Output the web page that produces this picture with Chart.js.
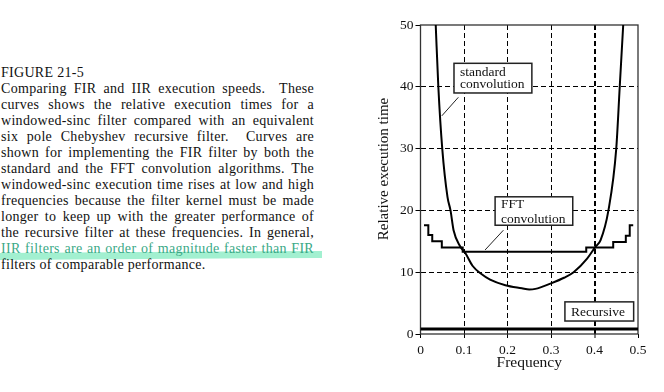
<!DOCTYPE html>
<html>
<head>
<meta charset="utf-8">
<script src="https://cdn.jsdelivr.net/npm/chart.js@4.4.1/dist/chart.umd.min.js"></script>
<style>
  html, body { margin: 0; padding: 0; background: #fff; }
  body { width: 664px; height: 392px; position: relative; overflow: hidden; font-family: 'Liberation Serif', 'Times New Roman', serif; }
  #caption { position: absolute; left: 1px; top: 65px; width: 313px; font-size: 14px; line-height: 16px; letter-spacing: 0.3px; color: #111; z-index: 2; }
  #caption div { text-align: justify; text-align-last: justify; }
  #caption div.plain { text-align-last: left; }
  #caption div.mark { color: #3aa986; }
  #band { position: absolute; left: 0; top: 252px; width: 322px; height: 7px; background: #a2f0d0; transform: rotate(-0.4deg); z-index: 1; }
  #plot { position: absolute; left: 370px; top: 0; width: 294px; height: 392px; }
</style>
</head>
<body>
<div id="band"></div>
<div id="caption">
  <div class="plain">FIGURE 21-5</div>
  <div>Comparing FIR and IIR execution speeds.&nbsp; These</div>
  <div>curves shows the relative execution times for a</div>
  <div>windowed-sinc filter compared with an equivalent</div>
  <div>six pole Chebyshev recursive filter.&nbsp; Curves are</div>
  <div>shown for implementing the FIR filter by both the</div>
  <div>standard and the FFT convolution algorithms. The</div>
  <div>windowed-sinc execution time rises at low and high</div>
  <div>frequencies because the filter kernel must be made</div>
  <div>longer to keep up with the greater performance of</div>
  <div>the recursive filter at these frequencies. In general,</div>
  <div class="mark">IIR filters are an order of magnitude faster than FIR</div>
  <div class="plain">filters of comparable performance.</div>
</div>
<div id="plot"><canvas id="chart" width="294" height="392"></canvas></div>
<script>
// Axis ticks
const freqTicks = [0, 0.1, 0.2, 0.3, 0.4, 0.5]
const freqTickLabels = ['0', '0.1', '0.2', '0.3', '0.4', '0.5']
const timeTicks = [0, 10, 20, 30, 40, 50]
const timeTickLabels = ['0', '10', '20', '30', '40', '50']

// Standard convolution
const standardFreq = [0.035, 0.041, 0.050, 0.062, 0.069, 0.076, 0.091, 0.103, 0.120, 0.140, 0.160, 0.195, 0.233, 0.250, 0.264, 0.300, 0.330, 0.352, 0.383, 0.402, 0.414, 0.432, 0.450, 0.458, 0.466]
const standardTime = [50, 40, 30, 22.2, 20, 16.8, 14.2, 13.1, 11.0, 9.7, 8.8, 7.9, 7.4, 7.2, 7.3, 8.2, 9.1, 10, 12.2, 14.1, 15.2, 20, 30, 40, 50]

// FFT convolution (stepped)
const fftFreq = [0.008, 0.018, 0.027, 0.049, 0.097, 0.381, 0.443, 0.472, 0.481, 0.489]
const fftTime = [17.6, 16.0, 15.0, 14.0, 13.3, 14.0, 14.9, 15.9, 17.6, 17.6]

// Recursive
const recursiveFreq = [0, 0.5]
const recursiveTime = [0.8, 0.8]

const serif = "'Liberation Serif', 'Times New Roman', serif"

// Labels with boxes, placed in data units
const notes = [
  { lines: ['standard', 'convolution'], box: [0.077, 43.8, 0.256, 39.0], baselines: [12.4, 25], leader: [0.087, 38.3, 0.049, 35.3] },
  { lines: ['FFT', 'convolution'], box: [0.1715, 22.2, 0.350, 17.6], baselines: [10.7, 25.7], leader: [0.1906, 16.8, 0.1485, 13.6] },
  { lines: ['Recursive'], box: [0.332, 5.2, 0.490, 2.1], baselines: [14.6], leader: null }
]

function toPoints(xs, ys) {
  return xs.map((x, i) => ({ x, y: ys[i] }))
}

const framePlugin = {
  id: 'frame',
  beforeDatasetsDraw(chart) {
    const { ctx, chartArea: a } = chart
    ctx.save()
    ctx.strokeStyle = '#333'
    ctx.lineWidth = 1.3
    ctx.strokeRect(a.left, a.top, a.right - a.left, a.bottom - a.top)
    ctx.restore()
  },
  afterDatasetsDraw(chart) {
    const { ctx, scales: { x, y } } = chart
    ctx.save()
    ctx.font = '13.5px ' + serif
    ctx.textBaseline = 'alphabetic'
    ctx.textAlign = 'left'
    notes.forEach(n => {
      const left = x.getPixelForValue(n.box[0])
      const top = y.getPixelForValue(n.box[1])
      const right = x.getPixelForValue(n.box[2])
      const bottom = y.getPixelForValue(n.box[3])
      ctx.fillStyle = '#fff'
      ctx.fillRect(left, top, right - left, bottom - top)
      ctx.strokeStyle = '#222'
      ctx.lineWidth = 1.5
      ctx.strokeRect(left, top, right - left, bottom - top)
      ctx.fillStyle = '#111'
      n.lines.forEach((t, i) => ctx.fillText(t, left + 6, top + n.baselines[i]))
      if (n.leader) {
        ctx.lineWidth = 1
        ctx.beginPath()
        ctx.moveTo(x.getPixelForValue(n.leader[0]), y.getPixelForValue(n.leader[1]))
        ctx.lineTo(x.getPixelForValue(n.leader[2]), y.getPixelForValue(n.leader[3]))
        ctx.stroke()
      }
    })
    ctx.restore()
  },
  afterDraw(chart) {
    const { ctx } = chart
    ctx.save()
    ctx.translate(14, 169)
    ctx.rotate(-Math.PI / 2)
    ctx.font = '15px ' + serif
    ctx.fillStyle = '#111'
    ctx.textAlign = 'center'
    ctx.textBaseline = 'middle'
    ctx.fillText('Relative execution time', 0, 0)
    ctx.restore()
  }
}

const edgeColor = (ctx, count) => (ctx.index === 0 || ctx.index === count - 1) ? 'rgba(0,0,0,0)' : '#000'

new Chart(document.getElementById('chart'), {
  type: 'line',
  data: {
    datasets: [
      {
        label: 'standard convolution',
        data: toPoints(standardFreq, standardTime),
        borderColor: '#000',
        borderWidth: 2,
        pointRadius: 0,
        cubicInterpolationMode: 'monotone',
        fill: false
      },
      {
        label: 'FFT convolution',
        data: toPoints(fftFreq, fftTime),
        borderColor: '#000',
        borderWidth: 2,
        pointRadius: 0,
        stepped: true,
        fill: false
      },
      {
        label: 'Recursive',
        data: toPoints(recursiveFreq, recursiveTime),
        borderColor: '#000',
        borderWidth: 3,
        pointRadius: 0,
        fill: false
      }
    ]
  },
  options: {
    responsive: false,
    animation: false,
    layout: { padding: { top: 25, right: 26, left: 0, bottom: 0 } },
    plugins: { legend: { display: false }, tooltip: { enabled: false } },
    scales: {
      x: {
        type: 'linear',
        min: 0,
        max: 0.5,
        afterBuildTicks: s => { s.ticks = freqTicks.map(v => ({ value: v })) },
        afterFit: s => { s.height = 58 },
        ticks: {
          callback: (v, i) => freqTickLabels[i],
          font: { family: serif, size: 13.5 },
          color: '#111',
          padding: 4,
          maxRotation: 0,
          autoSkip: false
        },
        grid: {
          color: ctx => edgeColor(ctx, freqTicks.length),
          lineWidth: ctx => ctx.index === 4 ? 2 : 1,
          tickColor: '#000',
          tickLength: 4,
          tickWidth: 1
        },
        border: { display: false, dash: [5, 3] },
        title: {
          display: true,
          text: 'Frequency',
          font: { family: serif, size: 15.5 },
          color: '#111',
          padding: { top: 0, bottom: 20 }
        }
      },
      y: {
        min: 0,
        max: 50,
        afterBuildTicks: s => { s.ticks = timeTicks.map(v => ({ value: v })) },
        afterFit: s => { s.width = 50.5 },
        ticks: {
          callback: (v, i) => timeTickLabels[i],
          font: { family: serif, size: 13.5 },
          color: '#111',
          padding: 2,
          autoSkip: false
        },
        grid: {
          color: ctx => edgeColor(ctx, timeTicks.length),
          lineWidth: 1,
          tickColor: '#000',
          tickLength: 5,
          tickWidth: 1
        },
        border: { display: false, dash: [5, 3] }
      }
    }
  },
  plugins: [framePlugin]
})
</script>
</body>
</html>
